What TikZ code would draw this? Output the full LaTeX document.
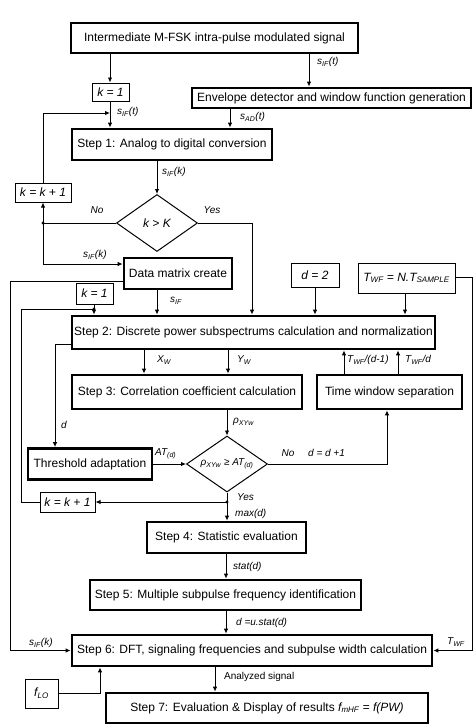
\documentclass[tikz,border=0pt]{standalone}
\usepackage{fontspec}
\setmainfont{Liberation Sans}
\usetikzlibrary{arrows.meta,shapes.geometric,calc}
\newcommand\lsb[1]{\textsubscript{#1}}
\begin{document}
\begin{tikzpicture}[x=1pt,y=-1pt,
  tbox/.style={draw, line width=2.8pt, font=\fontsize{12}{14}\selectfont, inner sep=0pt, align=center},
  nbox/.style={draw, line width=1pt, font=\fontsize{12}{14}\selectfont\itshape, inner sep=0pt},
  dia/.style={draw, diamond, line width=1pt, inner sep=0pt, aspect=1.4},
  lbl/.style={font=\fontsize{10}{12}\selectfont\itshape, inner sep=0pt, anchor=west},
  conn/.style={line width=0.9pt},
  arr/.style={conn, -{Latex[length=5pt,width=4.5pt]}},
  dotc/.style={circle, fill, inner sep=0pt, minimum size=3.5pt}]
\useasboundingbox (0,0) rectangle (474,724);
\fill[white] (0,0) rectangle (474,724);

% boxes
\node[tbox, minimum width=287pt, minimum height=30pt] (top) at (214.5,38) {Intermediate M-FSK intra-pulse modulated signal};
\node[nbox, minimum width=37pt, minimum height=18pt] (k1a) at (110.5,92) {k = 1};
\node[tbox, minimum width=279pt, minimum height=20pt] (env) at (331.5,98) {Envelope detector and window function generation};
\node[tbox, minimum width=200pt, minimum height=31pt] (step1) at (172,144.5) {Step 1: Analog to digital conversion};
\node[dia, minimum width=81pt, minimum height=57pt, font=\fontsize{12}{14}\selectfont\itshape] (diam1) at (157,223) {k > K};
\node[nbox, minimum width=56pt, minimum height=19pt] (kk1) at (43,192.5) {k = k + 1};
\node[tbox, minimum width=108pt, minimum height=31pt] (data) at (178,273.5) {Data matrix create};
\node[nbox, minimum width=48pt, minimum height=24pt] (d2) at (315,275) {d = 2};
\node[nbox, minimum width=97pt, minimum height=30pt] (twf) at (406.5,278) {T\lsb{WF} = N.T\lsb{SAMPLE}};
\node[nbox, minimum width=37pt, minimum height=21pt] (k1b) at (94.5,293.5) {k = 1};
\node[tbox, minimum width=363pt, minimum height=33pt] (step2) at (253.5,332.5) {Step 2: Discrete power subspectrums calculation and normalization};
\node[tbox, minimum width=230pt, minimum height=34pt] (step3) at (187,392) {Step 3: Correlation coefficient calculation};
\node[tbox, minimum width=145pt, minimum height=34pt] (tws) at (389.5,392) {Time window separation};
\node[tbox, minimum width=124pt, minimum height=31pt] (thr) at (90,464) {Threshold adaptation};
\node[dia, minimum width=81pt, minimum height=56pt, font=\fontsize{10}{12}\selectfont\itshape] (diam2) at (227,464) {ρ\lsb{XYw} ≥ AT\lsb{(d)}};
\node[nbox, minimum width=55pt, minimum height=20pt] (kk2) at (67.5,502) {k = k + 1};
\node[tbox, minimum width=159pt, minimum height=31pt] (step4) at (226.5,537.5) {Step 4: Statistic evaluation};
\node[tbox, minimum width=271pt, minimum height=30pt] (step5) at (225.5,595) {Step 5: Multiple subpulse frequency identification};
\node[tbox, minimum width=360pt, minimum height=31pt] (step6) at (252,650.5) {Step 6: DFT, signaling frequencies and subpulse width calculation};
\node[nbox, minimum width=33pt, minimum height=29pt] (flo) at (41.5,693.5) {f\lsb{LO}};
\node[tbox, minimum width=322pt, minimum height=30pt] (step7) at (267,708) {Step 7: Evaluation \& Display of results {\itshape f\lsb{mHF} = f(PW)}};

% junctions
\coordinate (j1) at (110,113);
\coordinate (dA) at (kk1.south |- diam1.west);
\coordinate (dB) at (94,309);
\coordinate (dC) at (diam2.south |- kk2.east);

% connectors
\draw[arr] (top.south -| 110,0) -- (k1a.north -| 110,0);
\draw[arr] (top.south -| 309,0) -- (env.north -| 309,0);
\draw[arr] (k1a.south -| 110,0) -- (step1.north -| 110,0);
\draw[arr] (env.south -| 230,0) -- (step1.north -| 230,0);
\draw[arr] (kk1.north) |- (j1);
\draw[arr] (step1.south -| diam1) -- (diam1.north);
\draw[conn] (diam1.west) -- (dA);
\draw[arr] (dA) -- (kk1.south);
\draw[arr] (dA) |- (data.west |- 0,264);
\draw[arr] (diam1.east) -| (step2.north -| 252,0);
\draw[arr] (data.south -| 157,0) -- (step2.north -| 157,0);
\draw[arr] (d2.south) -- (step2.north -| d2);
\draw[arr] (twf.south -| 405,0) -- (step2.north -| 405,0);
\draw[arr] (twf.east |- 0,277) -| (472,0 |- step6.east) -- (step6.east);
\draw[arr] (k1b.south -| dB) -- (step2.north -| dB);
\draw[conn] (kk2.west) -| (21,0 |- dB) -- (dB);
\draw[arr] (data.west |- 0,281) -| (10,0 |- step6.west) -- (step6.west);
\draw[arr] (step2.west |- 0,344) -| (thr.north -| 55,0);
\draw[arr] (step2.south -| 144,0) -- (step3.north -| 144,0);
\draw[arr] (step2.south -| 228,0) -- (step3.north -| 228,0);
\draw[arr] (tws.north -| 344,0) -- (step2.south -| 344,0);
\draw[arr] (tws.north -| 398,0) -- (step2.south -| 398,0);
\draw[arr] (step3.south -| diam2) -- (diam2.north);
\draw[arr] (thr.east) -- (diam2.west);
\draw[arr] (diam2.east) -| (tws.south -| 387,0);
\draw[conn] (diam2.south) -- (dC);
\draw[arr] (dC) -- (kk2.east);
\draw[arr] (dC) -- (step4.north -| dC);
\draw[arr] (step4.south -| 226,0) -- (step5.north -| 226,0);
\draw[arr] (step5.south -| 226,0) -- (step6.north -| 226,0);
\draw[arr] (flo.east) -| (step6.south -| 100,0);
\draw[arr] (step6.south -| 215,0) -- (step7.north -| 215,0);

\fill (dA) circle (1.6);
\fill (dB) circle (1.6);
\fill (dC) circle (1.6);

% labels
\node[lbl] (l1) at (317,62) {s\lsb{IF}(t)};
\node[lbl] (l2) at (117,112) {s\lsb{IF}(t)};
\node[lbl] (l3) at (240,117) {s\lsb{AD}(t)};
\node[lbl] (l4) at (162,172) {s\lsb{IF}(k)};
\node[lbl, anchor=center] (l5) at (97,210) {No};
\node[lbl, anchor=center] (l6) at (212,210) {Yes};
\node[lbl] (l7) at (83,255) {s\lsb{IF}(k)};
\node[lbl] (l8) at (170,301) {s\lsb{IF}};
\node[lbl] (l9) at (157,360) {X\lsb{W}};
\node[lbl] (l10) at (237,360) {Y\lsb{W}};
\node[lbl] (l11) at (347,360) {T\lsb{WF}/(d-1)};
\node[lbl] (l12) at (405,360) {T\lsb{WF}/d};
\node[lbl, anchor=center] (l13) at (64,425) {d};
\node[lbl] (l14) at (233,422) {ρ\lsb{XYw}};
\node[lbl] (l15) at (155,454) {AT\lsb{(d)}};
\node[lbl, anchor=center] (l16) at (288,453) {No};
\node[lbl] (l17) at (308,453) {d = d +1};
\node[lbl] (l18) at (237,497) {Yes};
\node[lbl] (l19) at (235,514) {max(d)};
\node[lbl] (l20) at (233,567) {stat(d)};
\node[lbl] (l21) at (236,623) {d =u.stat(d)};
\node[lbl] (l22) at (29,643) {s\lsb{IF}(k)};
\node[lbl] (l23) at (447,642) {T\lsb{WF}};
\node[lbl, font=\fontsize{10}{12}\selectfont] (l24) at (224,677) {Analyzed signal};
\end{tikzpicture}
\end{document}
